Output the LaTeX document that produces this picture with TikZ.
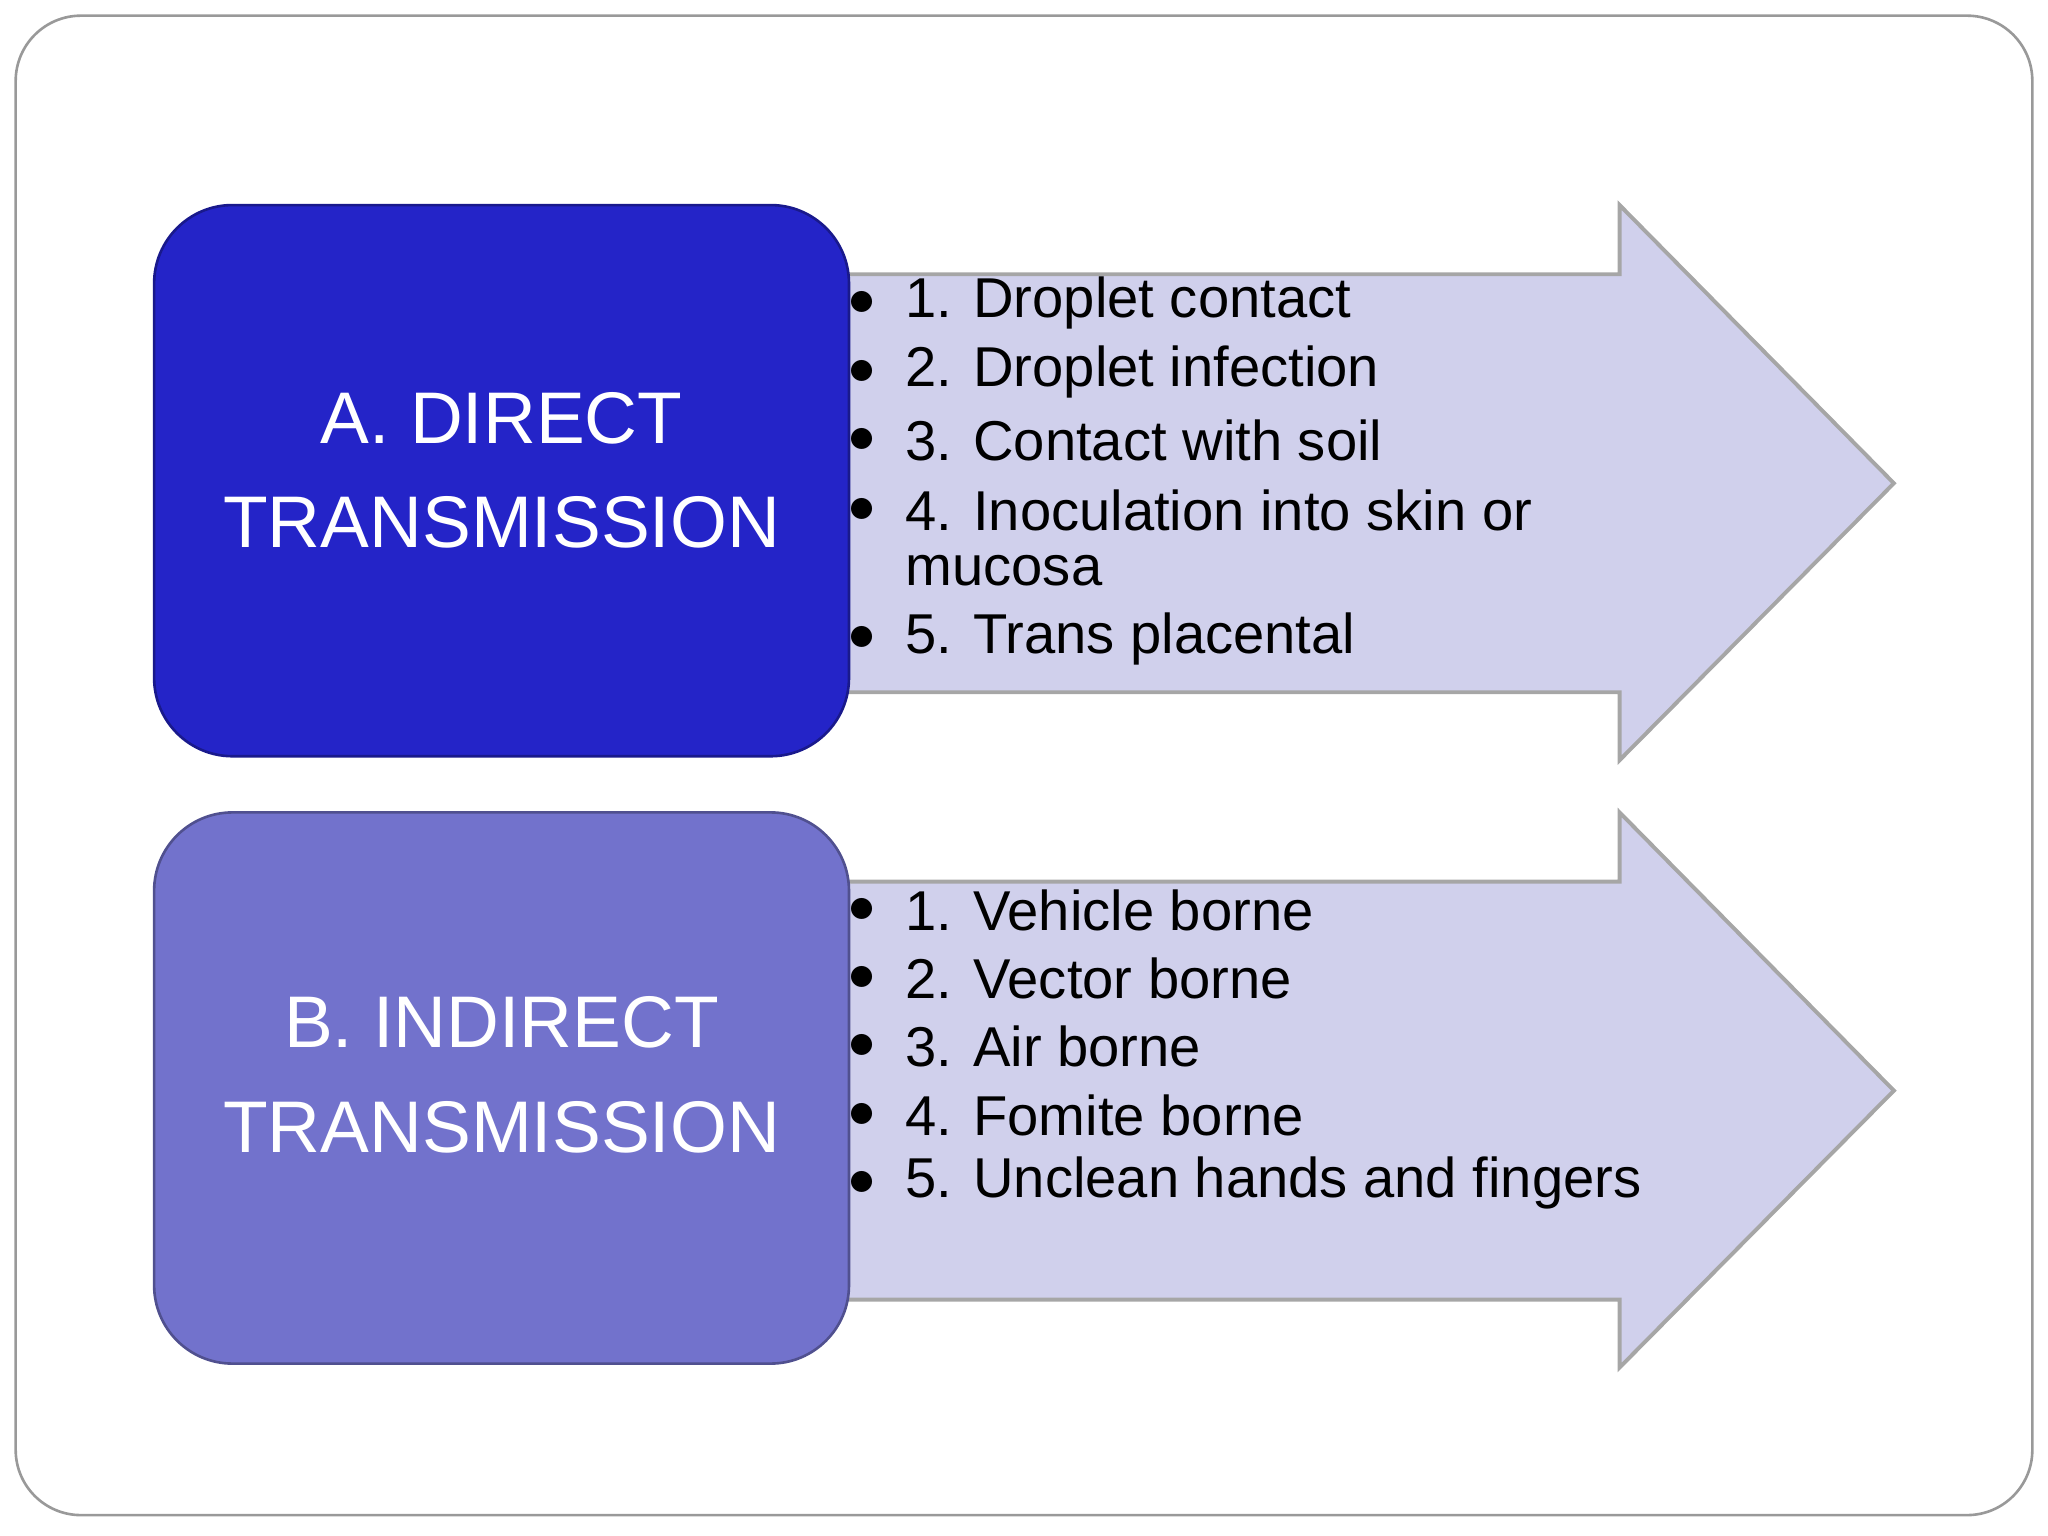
\documentclass[tikz,border=0pt]{standalone}
\usepackage{fontspec}
\setmainfont{Liberation Sans}
\begin{document}
\begin{tikzpicture}[x=0.5pt,y=-0.5pt,
  box/.style={rounded corners=30pt,draw=#1!70!black,line width=1pt},
  arr/.style={fill=arrowfill,draw=gray!70,line width=1.5pt,line join=miter},
  title/.style={text=white,font=\fontsize{28}{40}\selectfont,align=center},
  item/.style={anchor=west,font=\fontsize{21.5}{26}\selectfont,inner sep=0pt},
  bul/.style={font=\fontsize{21.5}{26}\selectfont,inner sep=0pt}]
\definecolor{darkb}{HTML}{2424C8}
\definecolor{lightb}{HTML}{7272CC}
\definecolor{arrowfill}{HTML}{D0D0EC}
\useasboundingbox (0,0) rectangle (1568,1176);
\draw[gray!80,line width=1pt,rounded corners=25pt] (12,12) rectangle (1556,1160);
% Arrow A
\draw[arr] (640,210) -- (1240,210) -- (1240,157) -- (1450,370) -- (1240,582) -- (1240,530) -- (640,530) -- cycle;
\node[box=darkb,fill=darkb,minimum width=266pt,minimum height=211pt] (A) at (384,368) {};
\node[title] (At) at (384,360) {A. DIRECT\\TRANSMISSION};
% Arrow B
\draw[arr] (640,675) -- (1240,675) -- (1240,622) -- (1450,835) -- (1240,1047) -- (1240,995) -- (640,995) -- cycle;
\node[box=lightb,fill=lightb,minimum width=266pt,minimum height=211pt] (B) at (384,833) {};
\node[title] (Bt) at (384,823) {B. INDIRECT\\TRANSMISSION};
% items A
\foreach \y/\t/\n in {232/1. Droplet contact/a1,285/2. Droplet infection/a2,337/3. Contact with soil/a3,391/4. Inoculation into skin or/a4,489/5. Trans placental/a5}{
  \node[bul] (b\n) at (660,\y) {$\bullet$};
  \node[item] (\n) at (693,\y) {\t};}
\node[item] (a4b) at (693,437) {mucosa};
% items B
\foreach \y/\t/\n in {697/1. Vehicle borne/b1,749/2. Vector borne/b2,801/3. Air borne/b3,854/4. Fomite borne/b4,906/5. Unclean hands and fingers/b5}{
  \node[bul] (b\n) at (660,\y) {$\bullet$};
  \node[item] (\n) at (693,\y) {\t};}
\end{tikzpicture}
\end{document}
